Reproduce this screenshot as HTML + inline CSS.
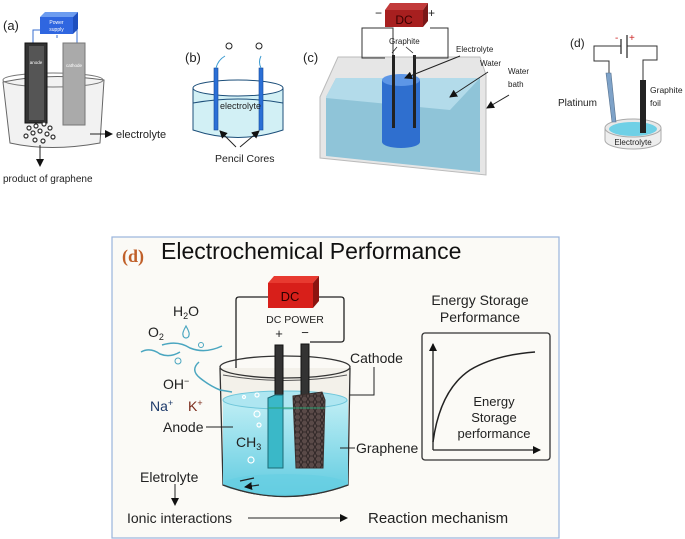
<!DOCTYPE html>
<html><head><meta charset="utf-8"><style>
html,body{margin:0;padding:0;background:#fff;}
svg{display:block;font-family:"Liberation Sans",sans-serif;}
</style></head><body>
<svg width="685" height="539" viewBox="0 0 685 539" xmlns="http://www.w3.org/2000/svg">
<defs>
<marker id="ah" markerWidth="8" markerHeight="8" refX="7" refY="4" orient="auto" markerUnits="userSpaceOnUse"><path d="M0,0 L8,4 L0,8 z" fill="#111"/></marker>
<linearGradient id="wat" x1="0" y1="0" x2="0" y2="1"><stop offset="0" stop-color="#bfeef5"/><stop offset="1" stop-color="#5fcbe0"/></linearGradient>
<pattern id="hex" width="7" height="6" patternUnits="userSpaceOnUse"><rect width="7" height="6" fill="#5a4a48"/><path d="M0,3 L2,0 L5,0 L7,3 L5,6 L2,6 Z" fill="none" stroke="#2a2222" stroke-width="0.8"/></pattern>
</defs>
<rect width="685" height="539" fill="#fff"/>

<!-- (a) -->
<text x="3" y="30" font-size="13" fill="#222">(a)</text>
<path d="M57,35 V38 M45,30 L33,30 L33,45 M70,30 L77,30 L77,45" stroke="#3a6fd0" stroke-width="1" fill="none"/>
<path d="M40,17 L45,12 L78,12 L73,17 Z" fill="#6c9cf0"/>
<path d="M73,17 L78,12 L78,29 L73,34 Z" fill="#1e4fbf"/>
<rect x="40" y="17" width="33" height="17" fill="#2f66e0"/>
<text x="56.5" y="24" font-size="5" fill="#fff" text-anchor="middle">Power</text>
<text x="56.5" y="31" font-size="5" fill="#fff" text-anchor="middle">supply</text>
<path d="M3,82 Q50,72 104,80 L100,143 Q50,152 10,143 Z" fill="#f2f2f2" stroke="#666" stroke-width="1"/>
<ellipse cx="53" cy="80" rx="50" ry="7" fill="none" stroke="#777"/>
<rect x="25" y="43" width="22" height="80" fill="#333" stroke="#111"/>
<rect x="29" y="46" width="15" height="74" fill="#555"/>
<rect x="63" y="43" width="22" height="82" fill="#aaa" stroke="#777"/>
<text x="36" y="64" font-size="4.5" fill="#fff" text-anchor="middle">anode</text>
<text x="74" y="67" font-size="4.5" fill="#fff" text-anchor="middle">cathode</text>
<g fill="#fff" stroke="#333" stroke-width="1.2">
<circle cx="29" cy="128" r="2"/><circle cx="36" cy="126" r="2"/><circle cx="44" cy="124" r="2"/><circle cx="50" cy="128" r="2"/><circle cx="26" cy="136" r="2"/><circle cx="33" cy="133" r="2"/><circle cx="40" cy="131" r="2"/><circle cx="47" cy="134" r="2"/><circle cx="35" cy="140" r="2"/><circle cx="43" cy="141" r="2"/><circle cx="53" cy="137" r="2"/></g>
<line x1="90" y1="134" x2="112" y2="134" stroke="#222" marker-end="url(#ah)"/>
<text x="116" y="138" font-size="11" fill="#222">electrolyte</text>
<line x1="40" y1="145" x2="40" y2="166" stroke="#222" marker-end="url(#ah)"/>
<text x="3" y="182" font-size="10" fill="#222">product of graphene</text>

<!-- (b) -->
<text x="185" y="62" font-size="13" fill="#222">(b)</text>
<path d="M193,88 V130 Q238,145 283,130 V88" fill="#d2f0f5" stroke="#1d4f7a"/>
<ellipse cx="238" cy="88" rx="45" ry="8" fill="#fff" stroke="#1d4f7a"/>
<path d="M193,103 Q238,95 283,103" fill="none" stroke="#1d4f7a"/>
<rect x="214" y="68" width="4" height="62" fill="#2b6fd6" stroke="#154a99" stroke-width="0.6"/>
<rect x="259" y="68" width="4" height="62" fill="#2b6fd6" stroke="#154a99" stroke-width="0.6"/>
<path d="M216,68 Q218,60 225,56" fill="none" stroke="#3a9ad0"/>
<path d="M261,68 Q258,62 261,56" fill="none" stroke="#3a9ad0"/>
<circle cx="229" cy="46" r="3" fill="none" stroke="#222"/><circle cx="259" cy="46" r="3" fill="none" stroke="#222"/>
<text x="220" y="109" font-size="9" fill="#222">electrolyte</text>
<line x1="236" y1="147" x2="220" y2="131" stroke="#222" marker-end="url(#ah)"/>
<line x1="240" y1="147" x2="259" y2="131" stroke="#222" marker-end="url(#ah)"/>
<text x="215" y="162" font-size="10.5" fill="#222">Pencil Cores</text>

<!-- (c) -->
<text x="303" y="62" font-size="13" fill="#222">(c)</text>
<path d="M320,97 L338,57 L480,57 L486,75 L486,175 L320,158 Z" fill="#e6e6e6" stroke="#bbb"/>
<path d="M326,97 L336,78 L480,78 L480,110 L480,172 L326,156 Z" fill="#8fc4d8"/>
<path d="M326,97 L336,78 L480,78 L450,110 L326,98 Z" fill="#b3dbea"/>
<path d="M382,80 V142 A19,6 0 0 0 420,142 V80" fill="#2f6fcf"/>
<ellipse cx="401" cy="80" rx="19" ry="6" fill="#5d96e6"/>
<rect x="392" y="55" width="3" height="73" fill="#222"/><rect x="413" y="55" width="3" height="73" fill="#222"/>
<path d="M393,55 V28 H362 V58 H385 M415,55 V58 H448 V28 H430" fill="none" stroke="#333"/>
<path d="M385,10 L390,3 L428,3 L423,10 Z" fill="#c23a3a"/>
<path d="M423,10 L428,3 L428,21 L423,27 Z" fill="#7a1818"/>
<rect x="385" y="10" width="38" height="17" fill="#a71f1f"/>
<text x="404" y="24" font-size="12" fill="#3a0000" text-anchor="middle">DC</text>
<text x="375" y="17" font-size="12" fill="#222">−</text><text x="428" y="17" font-size="12" fill="#222">+</text>
<text x="389" y="44" font-size="8" fill="#222">Graphite</text>
<path d="M397,47 L392,53 M406,47 L413,53" stroke="#222" stroke-width="0.8"/>
<text x="456" y="52" font-size="8" fill="#222">Electrolyte</text>
<line x1="460" y1="56" x2="405" y2="78" stroke="#222" marker-end="url(#ah)"/>
<text x="480" y="66" font-size="8" fill="#222">Water</text>
<line x1="488" y1="72" x2="450" y2="97" stroke="#222" marker-end="url(#ah)"/>
<text x="508" y="74" font-size="8" fill="#222">Water</text>
<text x="508" y="87" font-size="8" fill="#222">bath</text>
<line x1="509" y1="95" x2="487" y2="108" stroke="#222" marker-end="url(#ah)"/>

<!-- (d) top -->
<text x="570" y="47" font-size="12" fill="#222">(d)</text>
<path d="M609,73 L609,61 L594,61 V46 H621 M627,46 H657 V60 H643 V80" fill="none" stroke="#333"/>
<line x1="621" y1="39" x2="621" y2="54" stroke="#333" stroke-width="1.3"/>
<line x1="627" y1="35" x2="627" y2="58" stroke="#333" stroke-width="1.3"/>
<text x="615" y="41" font-size="10" fill="#c22">-</text><text x="629" y="41" font-size="10" fill="#c22">+</text>
<path d="M605,128 V140 A28,9 0 0 0 661,140 V128" fill="#eee" stroke="#aaa"/>
<ellipse cx="633" cy="128" rx="28" ry="9" fill="#e8e8e8" stroke="#aaa"/>
<ellipse cx="633" cy="129" rx="24" ry="7" fill="#6fd0e6"/>
<path d="M606,73 L611,73 L616,122 L612,122 Z" fill="#7ea2c8" stroke="#56718e" stroke-width="0.6"/>
<rect x="640" y="80" width="6" height="53" fill="#222"/>
<text x="558" y="106" font-size="10" fill="#222">Platinum</text>
<text x="650" y="93" font-size="8.5" fill="#222">Graphite</text>
<text x="650" y="106" font-size="8.5" fill="#222">foil</text>
<text x="633" y="145" font-size="8" fill="#222" text-anchor="middle">Electrolyte</text>

<!-- bottom panel -->
<rect x="112" y="237" width="447" height="301" fill="#fbfaf6" stroke="#9ab4dc" stroke-width="1.2"/>
<text x="122" y="262" font-size="18" font-weight="bold" fill="#c0602a" font-family="Liberation Serif,serif">(d)</text>
<text x="161" y="259" font-size="23" fill="#111">Electrochemical Performance</text>
<path d="M268,297 H239 Q236,297 236,300 V392" fill="none" stroke="#222" stroke-width="1.3"/>
<path d="M313,297 H341 Q344,297 344,300 V339 Q344,342 341,342 H310" fill="none" stroke="#222" stroke-width="1.3"/>
<path d="M268,283 L274,276 L319,276 L313,283 Z" fill="#e83a30"/>
<path d="M313,283 L319,276 L319,301 L313,308 Z" fill="#8c1410"/>
<rect x="268" y="283" width="45" height="25" fill="#d81f1a"/>
<text x="290" y="301" font-size="13" fill="#2a0000" text-anchor="middle">DC</text>
<text x="295" y="323" font-size="10.5" fill="#222" text-anchor="middle">DC POWER</text>
<text x="279" y="338" font-size="13" fill="#222" text-anchor="middle">+</text>
<text x="305" y="337" font-size="13" fill="#222" text-anchor="middle">−</text>
<path d="M220,368 L223,485 Q285,508 348,485 L350,368" fill="#f3f1ea" stroke="#333" stroke-width="1.3"/>
<path d="M223,400 Q285,410 348,400 L348,485 Q285,508 223,485 Z" fill="url(#wat)"/>
<ellipse cx="285" cy="400" rx="62" ry="9" fill="#aee6f1" stroke="#6fc6da"/>
<ellipse cx="285" cy="484" rx="62" ry="10" fill="#66cfe3" opacity="0.7"/>
<ellipse cx="285" cy="367" rx="65" ry="11" fill="none" stroke="#333" stroke-width="1.3"/>
<path d="M223,375 Q285,386 347,375" fill="none" stroke="#555"/>
<path d="M223,485 Q285,508 348,485" fill="none" stroke="#333" stroke-width="1.3"/>
<rect x="275" y="345" width="8" height="60" fill="#333" stroke="#111"/>
<path d="M268,398 L275,395 L283,395 L283,468 L268,468 Z" fill="#3ab8c8" stroke="#1b6a76"/>
<rect x="301" y="344" width="8" height="58" fill="#333" stroke="#111"/>
<path d="M293,396 L322,392 L325,400 L323,468 L296,468 Z" fill="url(#hex)" stroke="#3a2e2c"/>
<line x1="268" y1="408" x2="325" y2="408" stroke="#2aa070"/>
<g fill="none" stroke="#fff" stroke-width="1.2">
<circle cx="257" cy="395" r="2"/><circle cx="257" cy="414" r="3"/><circle cx="259" cy="425" r="2"/><circle cx="251" cy="460" r="3"/><circle cx="244" cy="397" r="1.5"/></g>
<path d="M240,481 L254,478 M259,485 L245,487" stroke="#222" stroke-width="1.2" marker-end="url(#ah)"/>
<path d="M141,352 Q150,347 160,354 Q170,358 180,352 M162,345 Q178,340 190,348 Q205,354 222,346" fill="none" stroke="#4aa6c0" stroke-width="1.5"/>
<path d="M199,362 Q190,370 200,378 Q210,386 220,390 L232,392" fill="none" stroke="#4aa6c0" stroke-width="1.5"/>
<circle cx="201" cy="345" r="2.5" fill="none" stroke="#4aa6c0"/>
<circle cx="178" cy="361" r="3" fill="none" stroke="#4aa6c0"/>
<path d="M186,326 Q182,333 183,335 A3,3 0 0 0 189,335 Q190,333 186,326 Z" fill="none" stroke="#4aa6c0" stroke-width="1.2"/>
<text x="173" y="316" font-size="14" fill="#222">H<tspan font-size="9" dy="3">2</tspan><tspan dy="-3">O</tspan></text>
<text x="148" y="337" font-size="14" fill="#222">O<tspan font-size="9" dy="3">2</tspan></text>
<text x="163" y="389" font-size="14" fill="#222">OH<tspan font-size="9" dy="-5">−</tspan></text>
<text x="150" y="411" font-size="14" fill="#1d3a6a">Na<tspan font-size="9" dy="-5">+</tspan></text>
<text x="188" y="411" font-size="14" fill="#7a2a1a">K<tspan font-size="9" dy="-5">+</tspan></text>
<text x="163" y="432" font-size="14" fill="#222">Anode</text>
<line x1="206" y1="427" x2="233" y2="427" stroke="#222"/>
<text x="236" y="447" font-size="14" fill="#222">CH<tspan font-size="9" dy="3">3</tspan></text>
<text x="350" y="363" font-size="14" fill="#222">Cathode</text>
<path d="M374,367 V395 H349" fill="none" stroke="#222"/>
<text x="356" y="453" font-size="14" fill="#222">Graphene</text>
<line x1="340" y1="448" x2="355" y2="448" stroke="#222"/>
<text x="140" y="482" font-size="14" fill="#222">Eletrolyte</text>
<line x1="175" y1="484" x2="175" y2="505" stroke="#222" marker-end="url(#ah)"/>
<text x="127" y="523" font-size="14" fill="#222">Ionic interactions</text>
<line x1="248" y1="518" x2="347" y2="518" stroke="#222" marker-end="url(#ah)"/>
<text x="368" y="523" font-size="15" fill="#222">Reaction mechanism</text>
<text x="480" y="305" font-size="14" fill="#222" text-anchor="middle">Energy Storage</text>
<text x="480" y="322" font-size="14" fill="#222" text-anchor="middle">Performance</text>
<rect x="422" y="333" width="128" height="127" rx="3" fill="#fbfaf6" stroke="#333" stroke-width="1.3"/>
<line x1="433" y1="450" x2="433" y2="344" stroke="#222" stroke-width="1.3" marker-end="url(#ah)"/>
<line x1="433" y1="450" x2="540" y2="450" stroke="#222" stroke-width="1.3" marker-end="url(#ah)"/>
<path d="M433,442 Q440,390 470,370 Q495,355 535,352" fill="none" stroke="#222" stroke-width="1.5"/>
<text x="494" y="406" font-size="13" fill="#222" text-anchor="middle">Energy</text>
<text x="494" y="422" font-size="13" fill="#222" text-anchor="middle">Storage</text>
<text x="494" y="438" font-size="13" fill="#222" text-anchor="middle">performance</text>
</svg>
</body></html>
